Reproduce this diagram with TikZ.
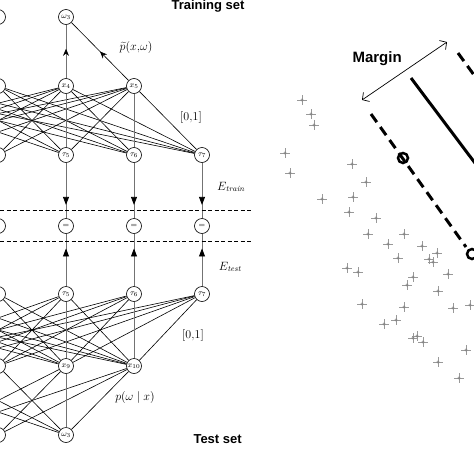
\documentclass[tikz,border=0pt]{standalone}
\usepackage{fontspec}
\newfontfamily\headfont{Liberation Sans}
\usetikzlibrary{arrows.meta,decorations.markings}

\tikzset{
  unit/.style={draw,circle,fill=white,minimum size=15pt,inner sep=0pt,
    line width=0.6pt,font=\fontsize{8.5}{9}\selectfont},
  wire/.style={line width=0.6pt},
  vwire/.style={line width=0.8pt,black!55},
  flow/.style={postaction={decorate},decoration={markings,
    mark=at position #1 with {\arrow{Triangle[length=8pt,width=6pt,color=black]}}}},
  pflow/.style={postaction={decorate},decoration={markings,
    mark=at position #1 with {\arrow{Stealth[length=7pt,width=6pt,color=black]}}}},
  sep/.style={line width=0.9pt,dash pattern=on 4pt off 2.5pt},
  tag/.style={font=\fontsize{12}{14}\selectfont,inner sep=1pt},
  head/.style={font=\headfont\bfseries\fontsize{13}{15}\selectfont},
  spark/.style={black!40,line width=0.4pt},
  svmline/.style={line width=3pt},
}

\begin{document}
\begin{tikzpicture}[x=1pt,y=-1pt]
  \useasboundingbox (0,0) rectangle (474,474);
  \clip (0,0) rectangle (474,474);
  % network: training half on top, test half below
  \foreach \k in {1,...,7} {
    \node[unit] (t\k) at (68*\k-274,155) {\ifnum\k>4 $\tau_{\k}$\fi};
    \node[unit] (b\k) at (68*\k-274,294) {\ifnum\k>4 $\tau_{\k}$\fi};
  }
  \node[unit] (e4) at (-2,226) {};
  \foreach \k in {5,6,7}
    \node[unit] (e\k) at (68*\k-274,226) {$=$};
  \foreach \i in {1,...,5}
    \node[unit] (x\i) at (68*\i-206,86) {\ifnum\i>3 $x_{\i}$\fi};
  \foreach \i in {6,...,10}
    \node[unit] (x\i) at (68*\i-546,366) {\ifnum\i>8 $x_{\i}$\fi};
  \node[unit] (w2) at (-2,17) {};
  \node[unit] (w3) at (66,17) {$\omega_3$};
  \node[unit] (v1) at (-70,435) {};
  \node[unit] (v2) at (-2,435) {};
  \node[unit] (v3) at (66,435) {$\omega_3$};
  \foreach \i in {1,...,5}
    \foreach \k in {1,...,7}
      {\pgfmathtruncatemacro\j{\i+1}
       \ifnum\k=\j\relax\else\draw[wire] (x\i) -- (t\k);\fi}
  \foreach \i in {6,...,10}
    \foreach \k in {1,...,7}
      {\pgfmathtruncatemacro\j{\i-4}
       \ifnum\k=\j\relax\else\draw[wire] (x\i) -- (b\k);\fi}
  \foreach \j in {1,2,3}
    \foreach \i in {6,...,10}
      {\pgfmathtruncatemacro\m{\j+6}
       \ifnum\i=\m\relax\else\draw[wire] (v\j) -- (x\i);\fi}
  \draw[vwire] (x4) -- (t5);
  \draw[vwire] (x5) -- (t6);
  \draw[vwire] (x9) -- (b5);
  \draw[vwire] (x10) -- (b6);
  \draw[vwire] (v3) -- (x9);
  \draw[vwire,pflow=0.55] (x4) -- (w3);
  \draw[wire,pflow=0.5] (x5) -- (w3);
  \foreach \k in {5,6,7} {
    \draw[vwire,flow=0.76] (t\k) -- (e\k);
    \draw[vwire,flow=0.72] (b\k) -- (e\k);
  }
  \draw[sep] (0,210) -- (252,210);
  \draw[sep] (0,241) -- (252,241);
  \node[tag] (ptil) at (136,47) {$\widetilde{p}(x{,}\omega)$};
  \node[tag] (rtop) at (191,117) {[0,1]};
  \node[tag] (rbot) at (193,335) {[0,1]};
  \node[tag] (pcond) at (135,397) {$p(\omega\mid x)$};
  \node[tag] (etrain) at (231,187) {$E_{\mathit{train}}$};
  \node[tag] (etest) at (230,267) {$E_{\mathit{test}}$};
  \node[head,anchor=base west] (trset) at (168,9) {Training set};
  \node[head,anchor=base west] (teset) at (190,443) {Test set};
  % margin sketch
  \draw[svmline] (411,78) -- (490,183);
  \draw[svmline,dash pattern=on 10pt off 6pt] (371,114) -- (466,247);
  \draw[svmline,dash pattern=on 10pt off 6pt] (458,53) -- (490,97);
  \draw[line width=2.5pt] (403,158) circle (5);
  \draw[line width=2.5pt] (472,254) circle (5);
  \coordinate (mlo) at (362,100);
  \coordinate (mhi) at (447,42);
  \draw[{Straight Barb[length=5pt,width=11pt]}-{Straight Barb[length=5pt,width=11pt]},
    line width=0.7pt] (mlo) -- (mhi);
  \node[head,font=\headfont\bfseries\fontsize{15}{17}\selectfont,anchor=base west]
    (marg) at (349,62) {Margin};
  \foreach \a/\b in {302/100,311/114,314/125,285/153,290/173,352/164,366/182,
      322/199,353/197,349/212,376/218,368/234,404/234,388/244,422/246,437/253,
      398/258,429/259,433/262,347/268,358/272,413/277,407/285,448/274,438/291,
      362/304,404/307,453/308,470/305,396/320,384/324,417/336,413/338,423/342,
      466/350,438/362,459/378}
    {\draw[spark] (\a-5,\b) -- (\a+5,\b) (\a,\b-5) -- (\a,\b+5);
     \fill[black!50] (\a-2,\b) -- (\a-.5,\b-.5) -- (\a,\b-2) -- (\a+.5,\b-.5)
       -- (\a+2,\b) -- (\a+.5,\b+.5) -- (\a,\b+2) -- (\a-.5,\b+.5) -- cycle;}
\end{tikzpicture}
\end{document}
